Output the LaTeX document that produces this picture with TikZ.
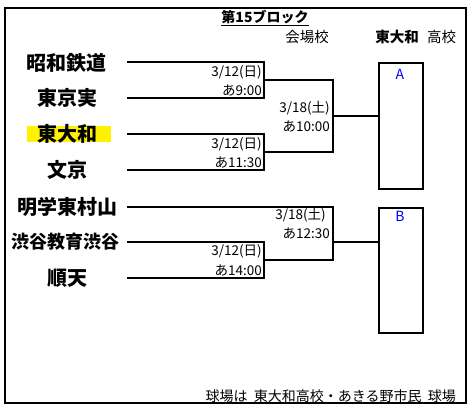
\documentclass[tikz,border=0pt]{standalone}
\usepackage{fontspec}
\setmainfont{Noto Sans CJK JP}
\begin{document}
\begin{tikzpicture}[x=1pt,y=-1pt,
  team/.style={font=\fontsize{20}{20}\selectfont\bfseries, inner sep=0pt, anchor=center},
  info/.style={font=\fontsize{13.5}{14}\selectfont, inner sep=0pt, anchor=east},
  br/.style={line width=1.2pt},
  slot/.style={draw, line width=2pt, minimum width=44pt, inner sep=0pt},
  slotlabel/.style={font=\fontsize{14}{14}\selectfont, text=blue, inner sep=0pt}]
\useasboundingbox (0,0) rectangle (474,412);
\draw[line width=2.5pt] (5,8) rectangle (466,403);
% header
\node[font=\fontsize{14}{14}\selectfont\bfseries, inner sep=0pt] (title) at (265,18) {\underline{第15ブロック}};
\node[font=\fontsize{14.5}{14}\selectfont, inner sep=0pt] (venue) at (307,37) {会場校};
\node[font=\fontsize{14.5}{14}\selectfont\bfseries, inner sep=0pt, anchor=east] (host) at (419,37) {東大和};
\node[font=\fontsize{14.5}{14}\selectfont, inner sep=0pt, anchor=west] (hs) at (427,37) {高校};
% highlight
\fill[yellow] (27,126) rectangle (111,142);
% teams
\node[team] (t1) at (67,63) {昭和鉄道};
\node[team] (t2) at (67,98) {東京実};
\node[team] (t3) at (67,134) {東大和};
\node[team] (t4) at (67,170) {文京};
\node[team] (t5) at (67,207) {明学東村山};
\node[team, font=\fontsize{18}{18}\selectfont\bfseries] (t6) at (66,242) {渋谷教育渋谷};
\node[team] (t7) at (67,278) {順天};
% line starts
\coordinate (s1) at (127,62);
\coordinate (s2) at (127,98);
\coordinate (s3) at (127,134);
\coordinate (s4) at (127,170);
\coordinate (s5) at (127,207);
\coordinate (s6) at (127,242);
\coordinate (s7) at (127,278);
% first round junctions
\coordinate (m1) at (264,80);
\coordinate (m2) at (264,152);
\coordinate (m3) at (264,260);
% second round
\coordinate (q1) at (333,116);
\coordinate (q2) at (333,242);
% slots
\node[slot, minimum height=126pt, anchor=north west] (A) at (378,62) {};
\node[slot, minimum height=125pt, anchor=north west] (B) at (378,207) {};
\node[slotlabel] (Al) at (400,74) {A};
\node[slotlabel] (Bl) at (400,216) {B};
% bracket lines
\draw[br] (s1) -| (m1) |- (s2);
\draw[br] (s3) -| (m2) |- (s4);
\draw[br] (s6) -| (m3) |- (s7);
\draw[br] (m1) -| (q1) |- (m2);
\draw[br] (q1) -- (A.west |- q1);
\draw[br] (s5) -| (q2) |- (m3);
\draw[br] (q2) -- (B.west |- q2);
% match info
\node[info] (d1) at (262,72) {3/12(日)};
\node[info] (h1) at (262,90) {あ9:00};
\node[info] (d2) at (262,144) {3/12(日)};
\node[info] (h2) at (262,162) {あ11:30};
\node[info] (d3) at (262,251) {3/12(日)};
\node[info] (h3) at (262,270) {あ14:00};
\node[info] (d4) at (330,108) {3/18(土)};
\node[info] (h4) at (330,126) {あ10:00};
\node[info] (d5) at (326,215) {3/18(土)};
\node[info] (h5) at (330,233) {あ12:30};
% footer
\node[font=\fontsize{14}{14}\selectfont, inner sep=0pt, anchor=east] (foot) at (456,396) {球場は\ \ 東大和高校・あきる野市民\ \ 球場};
\end{tikzpicture}
\end{document}
